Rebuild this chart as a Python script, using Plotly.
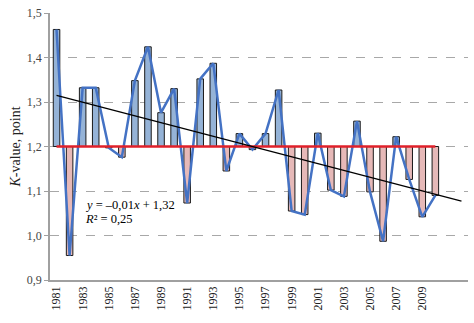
import plotly.graph_objects as go

years = list(range(1981, 2011))
k_values = [1.463, 0.955, 1.332, 1.332, 1.197, 1.176, 1.348, 1.424, 1.276, 1.330,
            1.073, 1.352, 1.387, 1.145, 1.229, 1.193, 1.229, 1.327, 1.055, 1.047,
            1.230, 1.102, 1.088, 1.257, 1.098, 0.987, 1.222, 1.126, 1.042, 1.090]
mean_value = 1.2
trend_years = [1981, 2012]
trend_values = [1.315, 1.077]
x_tick_years = list(range(1981, 2010, 2))
y_ticks = [0.9, 1.0, 1.1, 1.2, 1.3, 1.4, 1.5]
y_tick_labels = ["0,9", "1,0", "1,1", "1,2", "1,3", "1,4", "1,5"]

FONT = "Liberation Serif, Times New Roman, serif"

bar_heights = [v - mean_value for v in k_values]
bar_colors = ["#95B3D7" if v >= mean_value else "#E6B9B8" for v in k_values]

fig = go.Figure()
fig.add_trace(go.Bar(
    x=years, y=bar_heights, base=mean_value, width=0.5,
    marker=dict(color=bar_colors, line=dict(color="#1a1a1a", width=1)),
    showlegend=False, hoverinfo="skip"))
fig.add_trace(go.Scatter(
    x=years, y=k_values, mode="lines",
    line=dict(color="#4472C4", width=2.5), showlegend=False))
fig.add_trace(go.Scatter(
    x=years, y=[mean_value] * len(years), mode="lines",
    line=dict(color="#E0202A", width=2.5), showlegend=False))
fig.add_trace(go.Scatter(
    x=trend_years, y=trend_values, mode="lines",
    line=dict(color="#000000", width=1.3), showlegend=False))

fig.add_annotation(x=0.078, xref="paper", y=1.069, yref="y", xanchor="left",
                   text="<i>y</i> = –0,01<i>x</i> + 1,32", showarrow=False,
                   font=dict(family=FONT, size=12.5, color="#000"))
fig.add_annotation(x=0.078, xref="paper", y=1.036, yref="y", xanchor="left",
                   text="<i>R</i>² = 0,25", showarrow=False,
                   font=dict(family=FONT, size=12.5, color="#000"))

fig.update_layout(
    width=474, height=323,
    margin=dict(l=50, r=6, t=10, b=43),
    paper_bgcolor="white", plot_bgcolor="white",
    font=dict(family=FONT, size=12, color="#333"),
    bargap=0.5,
)
fig.update_xaxes(
    range=[1980.5, 2012.5], tickmode="array", tickvals=x_tick_years,
    ticktext=[str(y) for y in x_tick_years], tickangle=-90,
    tickfont=dict(family=FONT, size=12, color="#222"),
    showgrid=False, showline=True, linecolor="#a0a0a0", linewidth=1.5,
    ticks="", zeroline=False)
fig.update_yaxes(
    range=[0.9, 1.5], tickmode="array", tickvals=y_ticks, ticktext=y_tick_labels,
    tickfont=dict(family=FONT, size=12, color="#444"),
    showgrid=True, gridcolor="#a8a8a8", griddash="dash", gridwidth=1,
    showline=True, linecolor="#a0a0a0", linewidth=1.5,
    ticks="outside", ticklen=4, tickcolor="#a0a0a0", zeroline=False,
    title=dict(text="<i>K</i>-value, point", font=dict(family=FONT, size=14, color="#222"),
               standoff=3))

fig.write_html("out.html")
